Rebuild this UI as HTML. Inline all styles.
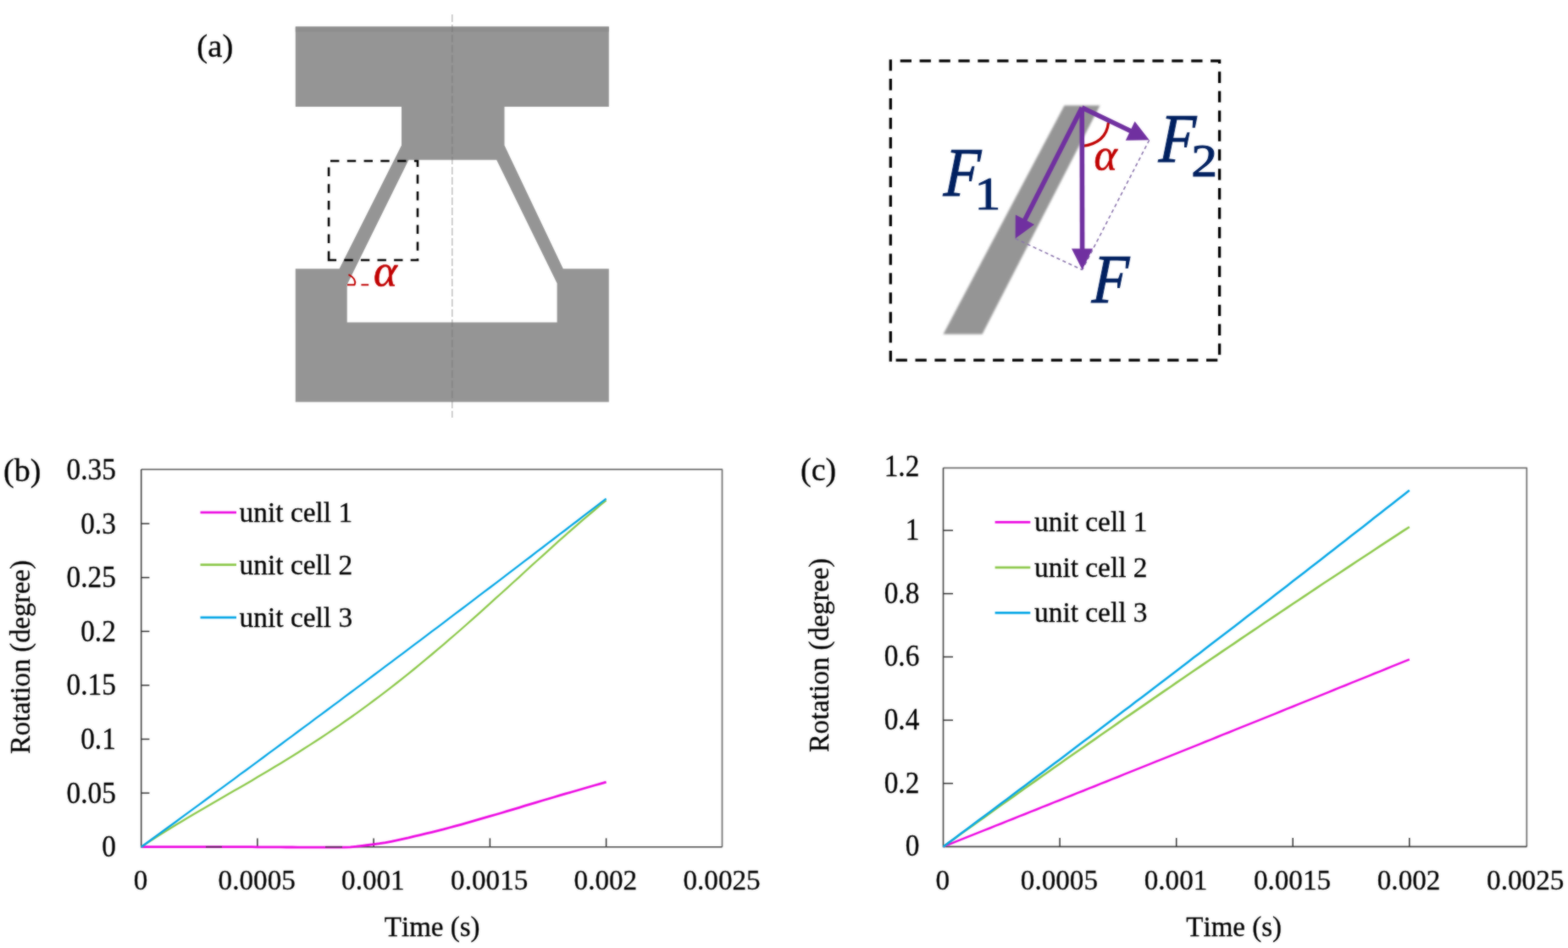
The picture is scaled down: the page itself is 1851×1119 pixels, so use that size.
<!DOCTYPE html>
<html lang="en">
<head>
<meta charset="utf-8">
<title>Figure</title>
<style>
html,body{margin:0;padding:0;background:#fff;}
body{width:1851px;height:1119px;overflow:hidden;}
svg{display:block;}
text{font-family:"Liberation Serif", "DejaVu Serif", serif;font-kerning:none;font-variant-ligatures:none;fill:#000;stroke:#000;stroke-width:0.3px;paint-order:stroke;}
.t{font-size:33px;}
.y{font-size:34px;}
.p{font-size:38px;}
.m{font-style:italic;fill:#002060;stroke:#002060;stroke-width:1.2px;font-size:82px;}
.s{font-style:normal;fill:#002060;stroke:#002060;font-size:54.5px;stroke-width:1.0px;}
.al{font-style:italic;fill:#C00000;stroke:#C00000;stroke-width:0.6px;}
</style>
</head>
<body>
<svg width="1851" height="1119" viewBox="0 0 1851 1119">
<defs>
<filter id="soft" filterUnits="userSpaceOnUse" x="0" y="0" width="1851" height="1119" color-interpolation-filters="sRGB"><feGaussianBlur stdDeviation="0.8" result="b"/><feComposite in="b" in2="SourceGraphic" operator="arithmetic" k1="0" k2="0.55" k3="0.45" k4="0"/></filter>
<filter id="blur" x="-10%" y="-10%" width="120%" height="120%"><feGaussianBlur stdDeviation="1.1"/></filter>
</defs>
<rect width="1851" height="1119" fill="#fff"/>
<g filter="url(#soft)">

<g id="cell">
<text class="p" transform="translate(232.3 66.5) scale(1.02 1)">(a)</text>
<path fill="#959595" d="M348.8 31.5H718.8V126H595.5V171.5L664.8 317.3H718.8V474.4H348.8V317.3H400.6L474 171.5V126H348.8Z M482.4 188.7H586.2L657.6 334.6V380.4H409.7V336Z" fill-rule="evenodd"/>
<rect x="348.8" y="31.5" width="370" height="6" fill="#8e8e8e"/>
<line x1="533.8" y1="17" x2="533.8" y2="493" stroke="#6e6e6e" stroke-opacity="0.5" stroke-width="1.3" stroke-dasharray="9 3"/>
<path d="M390.0 190.0H400.4M409.8 190.0H420.2M429.6 190.0H440.0M449.3 190.0H459.7M469.1 190.0H479.5M488.9 190.0H494.3M493.0 188.7V196.9M493.0 206.3V216.7M493.0 226.1V236.5M493.0 245.8V256.2M493.0 265.6V276.0M493.0 285.4V295.8M493.0 305.2V308.3M386.8 307.0H397.1M406.3 307.0H416.7M425.9 307.0H436.3M445.5 307.0H455.9M465.1 307.0H475.5M484.7 307.0H494.3M388.1 197.5V207.9M388.1 217.3V227.7M388.1 237.1V247.5M388.1 256.8V267.2M388.1 276.6V287.0M388.1 296.4V306.8" fill="none" stroke="#000" stroke-width="2.6"/>
<path d="M411.5 324.2Q421.5 329.5 418.6 336.3" fill="none" stroke="#C00000" stroke-width="2"/>
<path d="M410 336.3H419M426.4 336.3H435.2" fill="none" stroke="#C00000" stroke-width="2"/>
<text class="al" x="441" y="336.6" font-size="53">α</text>
</g>
<g id="inset">
<path d="M1062.7 71.9H1076.0M1085.6 71.9H1098.9M1108.5 71.9H1121.8M1131.4 71.9H1144.7M1154.3 71.9H1167.6M1177.2 71.9H1190.5M1200.1 71.9H1213.4M1223.0 71.9H1236.3M1245.9 71.9H1259.2M1268.8 71.9H1282.1M1291.7 71.9H1305.0M1314.6 71.9H1327.9M1337.5 71.9H1350.8M1360.4 71.9H1373.7M1383.3 71.9H1396.6M1406.2 71.9H1419.5M1429.1 71.9H1441.2M1439.6 70.2V75.0M1439.6 84.6V97.9M1439.6 107.5V120.8M1439.6 130.5V143.8M1439.6 153.4V166.7M1439.6 176.3V189.6M1439.6 199.2V212.5M1439.6 222.1V235.4M1439.6 245.1V258.4M1439.6 268.0V281.3M1439.6 290.9V304.2M1439.6 313.8V327.1M1439.6 336.7V350.0M1439.6 359.7V373.0M1439.6 382.6V395.9M1439.6 405.5V418.8M1057.6 425.2H1070.9M1080.5 425.2H1093.8M1103.4 425.2H1116.7M1126.3 425.2H1139.6M1149.2 425.2H1162.5M1172.1 425.2H1185.4M1195.0 425.2H1208.3M1217.9 425.2H1231.2M1240.8 425.2H1254.1M1263.7 425.2H1277.0M1286.6 425.2H1299.9M1309.5 425.2H1322.8M1332.4 425.2H1345.7M1355.3 425.2H1368.6M1378.2 425.2H1391.5M1401.1 425.2H1414.4M1424.0 425.2H1437.3M1051.3 70.2V83.5M1051.3 93.1V106.4M1051.3 116.0V129.3M1051.3 139.0V152.3M1051.3 161.9V175.2M1051.3 184.8V198.1M1051.3 207.7V221.0M1051.3 230.6V243.9M1051.3 253.6V266.9M1051.3 276.5V289.8M1051.3 299.4V312.7M1051.3 322.3V335.6M1051.3 345.2V358.5M1051.3 368.2V381.5M1051.3 391.1V404.4M1051.3 414.0V426.8" fill="none" stroke="#000" stroke-width="3.3"/>
<path filter="url(#blur)" fill="#959595" d="M1256.5 124.5H1298.5L1159.5 394.5H1113.5Z"/>
<line x1="1198.6" y1="281.6" x2="1277.6" y2="318.5" stroke="#8a74ad" stroke-width="1.6" stroke-dasharray="4.2 3.5"/>
<line x1="1356.7" y1="165.3" x2="1277.6" y2="318.5" stroke="#8a74ad" stroke-width="1.6" stroke-dasharray="4.2 3.5"/>
<path d="M1308.5 144.5Q1306 169 1277.5 172.5" fill="none" stroke="#C00000" stroke-width="3.2"/>
<line x1="1277.2" y1="127.0" x2="1209.0" y2="261.1" stroke="#7030A0" stroke-width="5.6"/>
<path fill="#7030A0" d="M1198.6 281.6L1198.8 253.6L1221.1 265.0Z"/>
<line x1="1277.2" y1="127.0" x2="1277.6" y2="295.5" stroke="#7030A0" stroke-width="5.6"/>
<path fill="#7030A0" d="M1277.6 318.5L1265.0 293.5L1290.0 293.5Z"/>
<line x1="1277.2" y1="127.0" x2="1336.0" y2="155.3" stroke="#7030A0" stroke-width="5.6"/>
<path fill="#7030A0" d="M1356.7 165.3L1328.8 165.7L1339.6 143.2Z"/>
<text class="al" x="1291.5" y="200" font-size="52">α</text>
<text class="m" transform="translate(1113.5 230.5) skewX(-3) scale(0.84 1)">F</text>
<text class="s" transform="translate(1150.6 247.3) scale(1.13 1)">1</text>
<text class="m" transform="translate(1367.5 191) skewX(-3) scale(0.84 1)">F</text>
<text class="s" transform="translate(1406.2 207.8) scale(1.13 1)">2</text>
<text class="m" transform="translate(1288.5 356.5) skewX(-3) scale(0.84 1)">F</text>
</g>
<g id="chartb">
<text class="p" x="4" y="568">(b)</text>
<path d="M166.7 554.1H852.5V999.7" fill="none" stroke="#6f6f6f" stroke-width="1.7" stroke-linejoin="round"/>
<text class="y" text-anchor="end" transform="translate(136.8 1011.1) scale(0.98 1.05)">0</text>
<line x1="166.7" y1="936.1" x2="176.39999999999998" y2="936.1" stroke="#303030" stroke-width="1.5"/>
<text class="y" text-anchor="end" transform="translate(136.8 947.5) scale(0.98 1.05)">0.05</text>
<line x1="166.7" y1="872.5" x2="176.39999999999998" y2="872.5" stroke="#303030" stroke-width="1.5"/>
<text class="y" text-anchor="end" transform="translate(136.8 883.9) scale(0.98 1.05)">0.1</text>
<line x1="166.7" y1="808.9" x2="176.39999999999998" y2="808.9" stroke="#303030" stroke-width="1.5"/>
<text class="y" text-anchor="end" transform="translate(136.8 820.3) scale(0.98 1.05)">0.15</text>
<line x1="166.7" y1="745.3" x2="176.39999999999998" y2="745.3" stroke="#303030" stroke-width="1.5"/>
<text class="y" text-anchor="end" transform="translate(136.8 756.7) scale(0.98 1.05)">0.2</text>
<line x1="166.7" y1="681.7" x2="176.39999999999998" y2="681.7" stroke="#303030" stroke-width="1.5"/>
<text class="y" text-anchor="end" transform="translate(136.8 693.1) scale(0.98 1.05)">0.25</text>
<line x1="166.7" y1="618.1" x2="176.39999999999998" y2="618.1" stroke="#303030" stroke-width="1.5"/>
<text class="y" text-anchor="end" transform="translate(136.8 629.5) scale(0.98 1.05)">0.3</text>
<text class="y" text-anchor="end" transform="translate(136.8 565.9) scale(0.98 1.05)">0.35</text>
<text class="t" text-anchor="middle" transform="translate(166.0 1050.2) scale(1.005 1.03)">0</text>
<line x1="303.9" y1="999.7" x2="303.9" y2="989.4000000000001" stroke="#303030" stroke-width="1.5"/>
<text class="t" text-anchor="middle" transform="translate(303.2 1050.2) scale(1.005 1.03)">0.0005</text>
<line x1="441.1" y1="999.7" x2="441.1" y2="989.4000000000001" stroke="#303030" stroke-width="1.5"/>
<text class="t" text-anchor="middle" transform="translate(440.4 1050.2) scale(1.005 1.03)">0.001</text>
<line x1="578.4" y1="999.7" x2="578.4" y2="989.4000000000001" stroke="#303030" stroke-width="1.5"/>
<text class="t" text-anchor="middle" transform="translate(577.7 1050.2) scale(1.005 1.03)">0.0015</text>
<line x1="715.6" y1="999.7" x2="715.6" y2="989.4000000000001" stroke="#303030" stroke-width="1.5"/>
<text class="t" text-anchor="middle" transform="translate(714.9 1050.2) scale(1.005 1.03)">0.002</text>
<text class="t" text-anchor="middle" transform="translate(852.1 1050.2) scale(1.005 1.03)">0.0025</text>
<text class="t" text-anchor="middle" x="510.2" y="1104.6">Time (s)</text>
<text class="t" text-anchor="middle" transform="translate(35.3 775.6) rotate(-90) scale(0.988 1.02)">Rotation (degree)</text>
<path d="M166.7 554.1V999.7H852.5" fill="none" stroke="#303030" stroke-opacity="0.9" stroke-width="1.6"/>
<path d="M166.7 999.7 L173.6 999.7 L180.4 999.7 L187.3 999.7 L194.1 999.7 L201.0 999.7 L207.9 999.7 L214.7 999.7 L221.6 999.7 L228.4 999.7 L235.3 999.7 L242.2 999.7 L249.0 999.7 L255.9 999.7 L262.8 999.7 L269.6 999.7 L276.5 999.7 L283.3 999.7 L290.2 999.7 L297.1 999.7 L303.9 999.8 L310.8 999.8 L317.6 999.9 L324.5 999.9 L331.4 999.9 L338.2 1000.0 L345.1 1000.0 L351.9 1000.1 L358.8 1000.1 L365.7 1000.1 L372.5 1000.1 L379.4 1000.2 L386.3 1000.2 L393.1 1000.2 L400.0 1000.2 L406.8 1000.1 L413.7 999.8 L420.6 999.2 L427.4 998.4 L434.3 997.5 L441.1 996.6 L448.0 995.7 L454.9 994.6 L461.7 993.3 L468.6 991.9 L475.4 990.4 L482.3 988.9 L489.2 987.2 L496.0 985.6 L502.9 983.9 L509.7 982.3 L516.6 980.6 L523.5 978.9 L530.3 977.0 L537.2 975.2 L544.1 973.3 L550.9 971.3 L557.8 969.4 L564.6 967.4 L571.5 965.4 L578.4 963.4 L585.2 961.5 L592.1 959.5 L598.9 957.4 L605.8 955.3 L612.7 953.3 L619.5 951.2 L626.4 949.1 L633.2 947.1 L640.1 945.0 L647.0 943.0 L653.8 941.0 L660.7 938.9 L667.6 936.9 L674.4 935.0 L681.3 933.0 L688.1 931.0 L695.0 929.0 L701.9 927.0 L708.7 925.1 L715.6 923.1" fill="none" stroke="#EC08E2" stroke-width="2.8" stroke-linejoin="round"/>
<path d="M166.7 999.7 L173.6 995.1 L180.4 990.7 L187.3 986.3 L194.1 982.0 L201.0 977.7 L207.9 973.5 L214.7 969.4 L221.6 965.3 L228.4 961.2 L235.3 957.2 L242.2 953.2 L249.0 949.2 L255.9 945.2 L262.8 941.3 L269.6 937.3 L276.5 933.3 L283.3 929.4 L290.2 925.4 L297.1 921.4 L303.9 917.3 L310.8 913.3 L317.6 909.2 L324.5 905.1 L331.4 900.9 L338.2 896.7 L345.1 892.5 L351.9 888.2 L358.8 883.8 L365.7 879.4 L372.5 875.0 L379.4 870.5 L386.3 865.9 L393.1 861.3 L400.0 856.6 L406.8 851.8 L413.7 847.0 L420.6 842.1 L427.4 837.1 L434.3 832.1 L441.1 827.0 L448.0 821.9 L454.9 816.6 L461.7 811.4 L468.6 806.0 L475.4 800.6 L482.3 795.1 L489.2 789.5 L496.0 783.9 L502.9 778.2 L509.7 772.5 L516.6 766.7 L523.5 760.8 L530.3 754.9 L537.2 749.0 L544.1 743.0 L550.9 737.0 L557.8 730.9 L564.6 724.8 L571.5 718.6 L578.4 712.4 L585.2 706.2 L592.1 700.0 L598.9 693.8 L605.8 687.5 L612.7 681.3 L619.5 675.0 L626.4 668.7 L633.2 662.5 L640.1 656.3 L647.0 650.1 L653.8 643.9 L660.7 637.7 L667.6 631.6 L674.4 625.6 L681.3 619.6 L688.1 613.6 L695.0 607.8 L701.9 602.0 L708.7 596.2 L715.6 590.6" fill="none" stroke="#8CC84A" stroke-width="2.3" stroke-linejoin="round"/>
<path d="M166.7 999.7 L173.6 994.7 L180.4 989.7 L187.3 984.7 L194.1 979.7 L201.0 974.7 L207.9 969.7 L214.7 964.6 L221.6 959.6 L228.4 954.6 L235.3 949.6 L242.2 944.5 L249.0 939.5 L255.9 934.4 L262.8 929.4 L269.6 924.4 L276.5 919.3 L283.3 914.2 L290.2 909.2 L297.1 904.1 L303.9 899.1 L310.8 894.0 L317.6 888.9 L324.5 883.8 L331.4 878.8 L338.2 873.7 L345.1 868.6 L351.9 863.5 L358.8 858.4 L365.7 853.3 L372.5 848.2 L379.4 843.1 L386.3 838.0 L393.1 832.9 L400.0 827.8 L406.8 822.7 L413.7 817.5 L420.6 812.4 L427.4 807.3 L434.3 802.1 L441.1 797.0 L448.0 791.9 L454.9 786.7 L461.7 781.6 L468.6 776.4 L475.4 771.3 L482.3 766.1 L489.2 760.9 L496.0 755.8 L502.9 750.6 L509.7 745.4 L516.6 740.3 L523.5 735.1 L530.3 729.9 L537.2 724.7 L544.1 719.5 L550.9 714.3 L557.8 709.1 L564.6 703.9 L571.5 698.7 L578.4 693.5 L585.2 688.3 L592.1 683.1 L598.9 677.9 L605.8 672.6 L612.7 667.4 L619.5 662.2 L626.4 657.0 L633.2 651.7 L640.1 646.5 L647.0 641.2 L653.8 636.0 L660.7 630.7 L667.6 625.5 L674.4 620.2 L681.3 615.0 L688.1 609.7 L695.0 604.4 L701.9 599.1 L708.7 593.9 L715.6 588.6" fill="none" stroke="#04A6E6" stroke-width="2.3" stroke-linejoin="round"/>
<line x1="243" y1="999.7" x2="262" y2="999.7" stroke="#303030" stroke-opacity="0.85" stroke-width="1.6"/>
<line x1="384" y1="999.7" x2="404" y2="999.7" stroke="#303030" stroke-opacity="0.85" stroke-width="1.6"/>
<line x1="236.5" y1="604.9" x2="279" y2="604.9" stroke="#EC08E2" stroke-width="2.7"/>
<text class="t" style="font-size:33.4px" x="282.6" y="615.7">unit cell 1</text>
<line x1="236.5" y1="666.7" x2="279" y2="666.7" stroke="#8CC84A" stroke-width="2.7"/>
<text class="t" style="font-size:33.4px" x="282.6" y="677.5">unit cell 2</text>
<line x1="236.5" y1="728.8" x2="279" y2="728.8" stroke="#04A6E6" stroke-width="2.7"/>
<text class="t" style="font-size:33.4px" x="282.6" y="739.6">unit cell 3</text>
</g>
<g id="chartc">
<text class="p" x="945" y="567.1">(c)</text>
<path d="M1113.5 552.3H1802.3V999.4" fill="none" stroke="#6f6f6f" stroke-width="1.7" stroke-linejoin="round"/>
<text class="y" text-anchor="end" transform="translate(1085.3 1010.4) scale(0.98 1.05)">0</text>
<line x1="1113.5" y1="924.7" x2="1125.0" y2="924.7" stroke="#303030" stroke-width="1.5"/>
<text class="y" text-anchor="end" transform="translate(1085.3 935.7) scale(0.98 1.05)">0.2</text>
<line x1="1113.5" y1="850.1" x2="1125.0" y2="850.1" stroke="#303030" stroke-width="1.5"/>
<text class="y" text-anchor="end" transform="translate(1085.3 861.1) scale(0.98 1.05)">0.4</text>
<line x1="1113.5" y1="775.4" x2="1125.0" y2="775.4" stroke="#303030" stroke-width="1.5"/>
<text class="y" text-anchor="end" transform="translate(1085.3 786.4) scale(0.98 1.05)">0.6</text>
<line x1="1113.5" y1="700.7" x2="1125.0" y2="700.7" stroke="#303030" stroke-width="1.5"/>
<text class="y" text-anchor="end" transform="translate(1085.3 711.7) scale(0.98 1.05)">0.8</text>
<line x1="1113.5" y1="626.1" x2="1125.0" y2="626.1" stroke="#303030" stroke-width="1.5"/>
<text class="y" text-anchor="end" transform="translate(1085.3 637.1) scale(0.98 1.05)">1</text>
<text class="y" text-anchor="end" transform="translate(1085.3 562.4) scale(0.98 1.05)">1.2</text>
<text class="t" text-anchor="middle" transform="translate(1112.8 1050.2) scale(1.005 1.03)">0</text>
<line x1="1251.1" y1="999.4" x2="1251.1" y2="989.1" stroke="#303030" stroke-width="1.5"/>
<text class="t" text-anchor="middle" transform="translate(1250.4 1050.2) scale(1.005 1.03)">0.0005</text>
<line x1="1388.7" y1="999.4" x2="1388.7" y2="989.1" stroke="#303030" stroke-width="1.5"/>
<text class="t" text-anchor="middle" transform="translate(1388.0 1050.2) scale(1.005 1.03)">0.001</text>
<line x1="1526.2" y1="999.4" x2="1526.2" y2="989.1" stroke="#303030" stroke-width="1.5"/>
<text class="t" text-anchor="middle" transform="translate(1525.5 1050.2) scale(1.005 1.03)">0.0015</text>
<line x1="1663.8" y1="999.4" x2="1663.8" y2="989.1" stroke="#303030" stroke-width="1.5"/>
<text class="t" text-anchor="middle" transform="translate(1663.1 1050.2) scale(1.005 1.03)">0.002</text>
<text class="t" text-anchor="middle" transform="translate(1800.7 1050.2) scale(1.005 1.03)">0.0025</text>
<text class="t" text-anchor="middle" x="1456.7" y="1104.6">Time (s)</text>
<text class="t" text-anchor="middle" transform="translate(978.4 773.4) rotate(-90) scale(0.988 1.02)">Rotation (degree)</text>
<path d="M1113.5 552.3V999.4H1802.3" fill="none" stroke="#303030" stroke-opacity="0.9" stroke-width="1.6"/>
<path d="M1113.5 999.4 L1120.4 996.7 L1127.3 993.9 L1134.1 991.2 L1141.0 988.4 L1147.9 985.7 L1154.8 982.9 L1161.7 980.2 L1168.5 977.5 L1175.4 974.7 L1182.3 972.0 L1189.2 969.2 L1196.0 966.5 L1202.9 963.7 L1209.8 961.0 L1216.7 958.2 L1223.6 955.5 L1230.4 952.7 L1237.3 950.0 L1244.2 947.2 L1251.1 944.5 L1258.0 941.7 L1264.8 939.0 L1271.7 936.2 L1278.6 933.5 L1285.5 930.7 L1292.4 928.0 L1299.2 925.2 L1306.1 922.5 L1313.0 919.7 L1319.9 917.0 L1326.7 914.2 L1333.6 911.4 L1340.5 908.7 L1347.4 905.9 L1354.3 903.2 L1361.1 900.4 L1368.0 897.6 L1374.9 894.9 L1381.8 892.1 L1388.7 889.4 L1395.5 886.6 L1402.4 883.8 L1409.3 881.1 L1416.2 878.3 L1423.1 875.5 L1429.9 872.8 L1436.8 870.0 L1443.7 867.2 L1450.6 864.5 L1457.5 861.7 L1464.3 858.9 L1471.2 856.1 L1478.1 853.4 L1485.0 850.6 L1491.8 847.8 L1498.7 845.1 L1505.6 842.3 L1512.5 839.5 L1519.4 836.7 L1526.2 834.0 L1533.1 831.2 L1540.0 828.4 L1546.9 825.6 L1553.8 822.9 L1560.6 820.1 L1567.5 817.3 L1574.4 814.5 L1581.3 811.7 L1588.2 809.0 L1595.0 806.2 L1601.9 803.4 L1608.8 800.6 L1615.7 797.8 L1622.5 795.0 L1629.4 792.3 L1636.3 789.5 L1643.2 786.7 L1650.1 783.9 L1656.9 781.1 L1663.8 778.3" fill="none" stroke="#EC08E2" stroke-width="2.5" stroke-linejoin="round"/>
<path d="M1113.5 999.4 L1120.4 994.4 L1127.3 989.5 L1134.1 984.6 L1141.0 979.6 L1147.9 974.7 L1154.8 969.8 L1161.7 964.9 L1168.5 959.9 L1175.4 955.0 L1182.3 950.1 L1189.2 945.3 L1196.0 940.4 L1202.9 935.5 L1209.8 930.6 L1216.7 925.7 L1223.6 920.9 L1230.4 916.0 L1237.3 911.2 L1244.2 906.3 L1251.1 901.5 L1258.0 896.6 L1264.8 891.8 L1271.7 887.0 L1278.6 882.2 L1285.5 877.4 L1292.4 872.6 L1299.2 867.8 L1306.1 863.0 L1313.0 858.2 L1319.9 853.4 L1326.7 848.6 L1333.6 843.9 L1340.5 839.1 L1347.4 834.4 L1354.3 829.6 L1361.1 824.9 L1368.0 820.1 L1374.9 815.4 L1381.8 810.7 L1388.7 805.9 L1395.5 801.2 L1402.4 796.5 L1409.3 791.8 L1416.2 787.1 L1423.1 782.4 L1429.9 777.7 L1436.8 773.1 L1443.7 768.4 L1450.6 763.7 L1457.5 759.1 L1464.3 754.4 L1471.2 749.7 L1478.1 745.1 L1485.0 740.5 L1491.8 735.8 L1498.7 731.2 L1505.6 726.6 L1512.5 722.0 L1519.4 717.4 L1526.2 712.8 L1533.1 708.2 L1540.0 703.6 L1546.9 699.0 L1553.8 694.4 L1560.6 689.8 L1567.5 685.3 L1574.4 680.7 L1581.3 676.2 L1588.2 671.6 L1595.0 667.1 L1601.9 662.5 L1608.8 658.0 L1615.7 653.5 L1622.5 649.0 L1629.4 644.4 L1636.3 639.9 L1643.2 635.4 L1650.1 630.9 L1656.9 626.4 L1663.8 622.0" fill="none" stroke="#8CC84A" stroke-width="2.5" stroke-linejoin="round"/>
<path d="M1113.5 999.4 L1120.4 994.3 L1127.3 989.2 L1134.1 984.0 L1141.0 978.9 L1147.9 973.8 L1154.8 968.6 L1161.7 963.5 L1168.5 958.4 L1175.4 953.2 L1182.3 948.1 L1189.2 942.9 L1196.0 937.8 L1202.9 932.6 L1209.8 927.4 L1216.7 922.3 L1223.6 917.1 L1230.4 911.9 L1237.3 906.7 L1244.2 901.6 L1251.1 896.4 L1258.0 891.2 L1264.8 886.0 L1271.7 880.8 L1278.6 875.6 L1285.5 870.4 L1292.4 865.2 L1299.2 860.0 L1306.1 854.8 L1313.0 849.6 L1319.9 844.3 L1326.7 839.1 L1333.6 833.9 L1340.5 828.6 L1347.4 823.4 L1354.3 818.2 L1361.1 812.9 L1368.0 807.7 L1374.9 802.4 L1381.8 797.2 L1388.7 791.9 L1395.5 786.7 L1402.4 781.4 L1409.3 776.1 L1416.2 770.9 L1423.1 765.6 L1429.9 760.3 L1436.8 755.0 L1443.7 749.8 L1450.6 744.5 L1457.5 739.2 L1464.3 733.9 L1471.2 728.6 L1478.1 723.3 L1485.0 718.0 L1491.8 712.7 L1498.7 707.4 L1505.6 702.0 L1512.5 696.7 L1519.4 691.4 L1526.2 686.1 L1533.1 680.7 L1540.0 675.4 L1546.9 670.1 L1553.8 664.7 L1560.6 659.4 L1567.5 654.0 L1574.4 648.7 L1581.3 643.3 L1588.2 638.0 L1595.0 632.6 L1601.9 627.2 L1608.8 621.9 L1615.7 616.5 L1622.5 611.1 L1629.4 605.7 L1636.3 600.3 L1643.2 595.0 L1650.1 589.6 L1656.9 584.2 L1663.8 578.8" fill="none" stroke="#04A6E6" stroke-width="2.5" stroke-linejoin="round"/>
<line x1="1174.6" y1="616.3" x2="1216.3" y2="616.3" stroke="#EC08E2" stroke-width="2.7"/>
<text class="t" style="font-size:33.4px" x="1221" y="627.1">unit cell 1</text>
<line x1="1174.6" y1="669.8" x2="1216.3" y2="669.8" stroke="#8CC84A" stroke-width="2.7"/>
<text class="t" style="font-size:33.4px" x="1221" y="680.6">unit cell 2</text>
<line x1="1174.6" y1="723.3" x2="1216.3" y2="723.3" stroke="#04A6E6" stroke-width="2.7"/>
<text class="t" style="font-size:33.4px" x="1221" y="734.1">unit cell 3</text>
</g>
</g>
</svg>
</body>
</html>
